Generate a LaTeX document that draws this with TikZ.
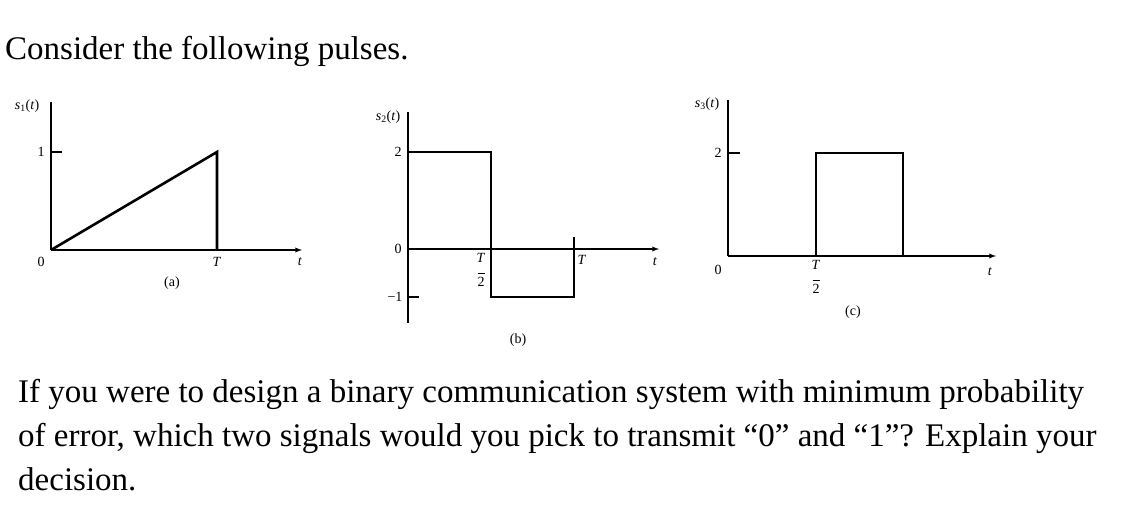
\documentclass[tikz,border=0pt]{standalone}
\usepackage{fontspec}
\setmainfont{Liberation Serif}
\newcommand{\halfT}{\begin{tabular}{@{}c@{}}\textit{T}\\[-4pt]\rule{7pt}{0.6pt}\\[-2pt]2\end{tabular}}
\begin{document}
\begin{tikzpicture}[x=1pt,y=-1pt,
  ax/.style={line width=1.3pt},
  axa/.style={line width=1.3pt,-latex},
  sig/.style={line width=2.6pt,line cap=butt},
  lbl/.style={font=\fontsize{14}{15}\selectfont,inner sep=0pt},
  big/.style={font=\fontsize{33}{36}\selectfont,inner sep=0pt,anchor=base west}]
\useasboundingbox (0,0) rectangle (1121,510);
% text
\node[big] (h) at (5,60) {Consider the following pulses.};
\node[big] (l1) at (18,402) {If you were to design a binary communication system with minimum probability};
\node[big] (l2) at (18,446) {of error, which two signals would you pick to transmit “0” and “1”? Explain your};
\node[big] (l3) at (18,490) {decision.};
% (a)
\draw[ax] (51,102) -- (51,250);
\draw[axa] (51,250) -- (302,250);
\draw[ax] (51,152) -- (62,152);
\draw[sig] (51,250) -- (217,152) -- (217,250);
\node[lbl] (a1) at (27,106) {\textit{s}\textsubscript{1}(\textit{t})};
\node[lbl] (a2) at (41,152) {1};
\node[lbl] (a3) at (41,262) {0};
\node[lbl] (a4) at (217,262) {\textit{T}};
\node[lbl] (a5) at (300,262) {\textit{t}};
\node[lbl] (a6) at (172,283) {(a)};
% (b)
\draw[ax] (408,112) -- (408,323);
\draw[axa] (408,249) -- (659,249);
\draw[ax] (408,297) -- (419,297);
\draw[ax] (574,237) -- (574,249);
\draw[sig] (408,152) -- (491,152) -- (491,297) -- (574,297) -- (574,249);
\node[lbl] (b1) at (388,117) {\textit{s}\textsubscript{2}(\textit{t})};
\node[lbl] (b2) at (398,152) {2};
\node[lbl] (b3) at (398,249) {0};
\node[lbl] (b4) at (481,272) {\halfT};
\node[lbl] (b5) at (582,260) {\textit{T}};
\node[lbl] (b6) at (655,262) {\textit{t}};
\node[lbl] (b7) at (395,297) {\textminus1};
\node[lbl] (b8) at (518,340) {(b)};
% (c)
\draw[ax] (728,100) -- (728,256);
\draw[axa] (728,256) -- (996,256);
\draw[ax] (728,153) -- (740,153);
\draw[sig] (816,256) -- (816,153) -- (903,153) -- (903,256);
\node[lbl] (c1) at (707,104) {\textit{s}\textsubscript{3}(\textit{t})};
\node[lbl] (c2) at (718,153) {2};
\node[lbl] (c3) at (718,270) {0};
\node[lbl] (c4) at (816,279) {\halfT};
\node[lbl] (c5) at (990,272) {\textit{t}};
\node[lbl] (c6) at (853,312) {(c)};
\end{tikzpicture}
\end{document}
